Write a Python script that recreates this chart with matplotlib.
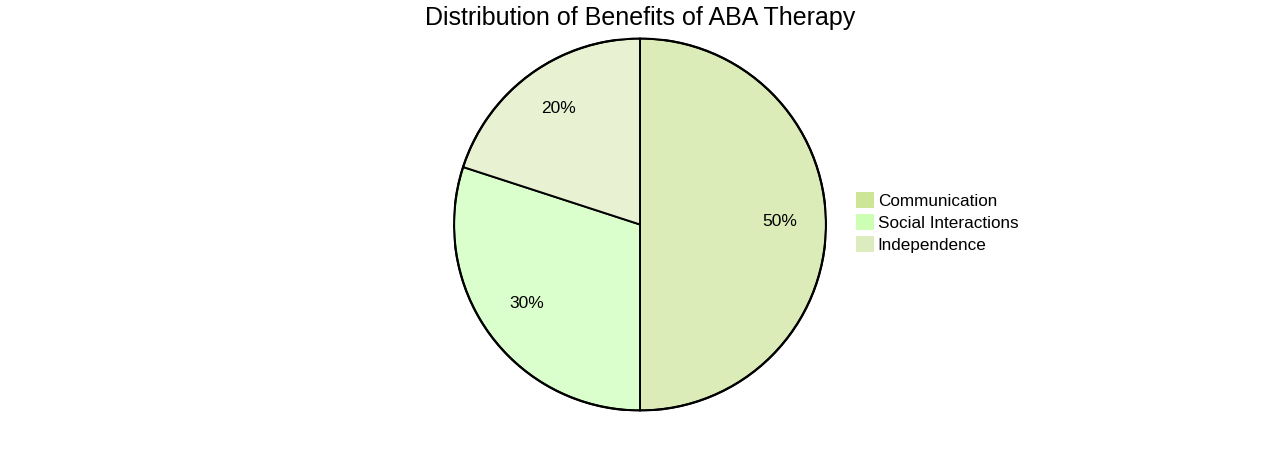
import matplotlib.pyplot as plt
from matplotlib.patches import Patch, Circle

plt.rcParams['font.family'] = ['Liberation Sans', 'DejaVu Sans']

# Data
labels = ['Communication', 'Social Interactions', 'Independence']
values = [50, 30, 20]
slice_colors = ['#dcecb8', '#dbffcc', '#e8f2d2']
legend_colors = ['#cce596', '#ccffb4', '#dcecbe']

fig = plt.figure(figsize=(12.8, 4.5), dpi=100)
W, H = 1280, 450
r = 186
cx, cy = 640, 450 - 224.5
ax = fig.add_axes([(cx - r) / W, (cy - r) / H, 2 * r / W, 2 * r / H])

wedges, texts = ax.pie(values, colors=slice_colors, startangle=90, counterclock=False,
                       radius=1, labels=[f'{v}%' for v in values], labeldistance=0.75,
                       wedgeprops=dict(edgecolor='black', linewidth=1.4),
                       textprops=dict(fontsize=12.5, ha='center', va='center'))
# mermaid places the labels slightly above the geometric point
for t in texts:
    x, y = t.get_position()
    t.set_position((x, y + 0.018))
ax.add_patch(Circle((0, 0), 1, fill=False, edgecolor='black', linewidth=1.6))
ax.set_xlim(-1, 1)
ax.set_ylim(-1, 1)
ax.set_aspect('equal')
ax.axis('off')

fig.text(0.5, 1 - 18 / H, 'Distribution of Benefits of ABA Therapy', ha='center', va='center', fontsize=18)

handles = [Patch(facecolor=c, edgecolor='none') for c in legend_colors]
fig.legend(handles, labels, loc='center left', bbox_to_anchor=(856 / W, 1 - 222.5 / H),
           frameon=False, fontsize=12.3, handlelength=1.05, handleheight=1.05,
           handletextpad=0.22, labelspacing=0.3, borderaxespad=0, borderpad=0)

fig.savefig('out.png', dpi=100)
